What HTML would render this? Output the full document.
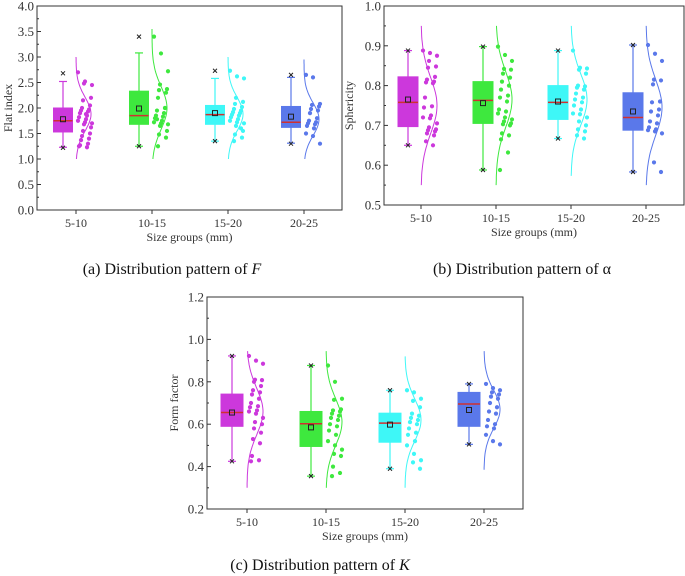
<!DOCTYPE html>
<html><head><meta charset="utf-8">
<style>
html,body{margin:0;padding:0;background:#fff;}
svg{display:block;}
text{font-family:"Liberation Serif","DejaVu Serif",serif;}
</style></head>
<body>
<svg id="fig" width="685" height="576" viewBox="0 0 685 576" font-family="Liberation Serif, serif"></svg>
<script>
const categories = ["5-10","10-15","15-20","20-25"];
const colors = ["#cc38dc","#3ee83e","#3ef7f7","#5a78ea"];

// (a) Flat index F
const aQ1 = [1.53,1.68,1.68,1.62];
const aMed = [1.75,1.85,1.87,1.72];
const aQ3 = [2.0,2.33,2.05,2.03];
const aMean = [1.78,1.99,1.9,1.83];
const aWLo = [1.23,1.25,1.35,1.31];
const aWHi = [2.52,3.08,2.58,2.6];
const aMin = [1.22,1.25,1.35,1.30];
const aMax = [2.68,3.40,2.73,2.65];
const aCurveMean = [1.88,2.0,1.88,1.78];
const aCurveSd = [0.33,0.42,0.33,0.32];
const aCurveLo = [1.0,1.0,1.0,1.0];
const aCurveHi = [3.0,3.55,3.0,2.95];
const aPts0 = [2.7,2.52,2.45,2.48,2.2,2.15,2.05,2.0,1.97,1.95,1.93,1.9,1.85,1.82,1.78,1.75,1.72,1.7,1.68,1.62,1.55,1.5,1.45,1.4,1.37,1.3,1.27,1.23,1.25,1.88];
const aPts1 = [3.4,3.07,2.72,2.46,2.37,2.35,2.3,2.2,2.0,1.95,1.9,1.85,1.83,1.8,1.75,1.72,1.7,1.68,1.65,1.55,1.48,1.42,1.25,2.0,1.78];
const aPts2 = [2.73,2.62,2.58,2.2,2.12,2.08,2.02,1.98,1.95,1.92,1.9,1.87,1.85,1.82,1.78,1.75,1.72,1.7,1.65,1.55,1.48,1.42,1.35,1.6];
const aPts3 = [2.65,2.6,2.08,2.06,2.03,1.98,1.95,1.9,1.8,1.75,1.72,1.7,1.68,1.65,1.6,1.5,1.45,1.3];
const aTicks = ["0.0","0.5","1.0","1.5","2.0","2.5","3.0","3.5","4.0"];

// (b) Sphericity
const bQ1 = [0.697,0.705,0.715,0.688];
const bMed = [0.758,0.763,0.758,0.72];
const bQ3 = [0.822,0.81,0.80,0.782];
const bMean = [0.765,0.756,0.76,0.735];
const bWLo = [0.65,0.588,0.667,0.583];
const bWHi = [0.888,0.898,0.888,0.902];
const bMin = [0.65,0.588,0.667,0.583];
const bMax = [0.888,0.898,0.888,0.902];
const bCurveMean = [0.75,0.765,0.765,0.745];
const bCurveSd = [0.07,0.07,0.065,0.07];
const bCurveLo = [0.55,0.55,0.573,0.55];
const bCurveHi = [0.95,0.95,0.95,0.95];
const bPts0 = [0.888,0.882,0.875,0.862,0.848,0.845,0.822,0.815,0.81,0.808,0.806,0.77,0.748,0.745,0.725,0.72,0.718,0.705,0.695,0.69,0.688,0.685,0.68,0.675,0.66,0.65];
const bPts1 = [0.898,0.877,0.862,0.842,0.84,0.83,0.82,0.81,0.8,0.79,0.775,0.77,0.76,0.74,0.735,0.73,0.72,0.715,0.71,0.705,0.703,0.7,0.68,0.675,0.665,0.632,0.588];
const bPts2 = [0.888,0.845,0.843,0.84,0.83,0.8,0.798,0.795,0.79,0.78,0.77,0.765,0.758,0.75,0.74,0.73,0.728,0.72,0.71,0.7,0.69,0.685,0.675,0.667];
const bPts3 = [0.902,0.88,0.862,0.815,0.813,0.803,0.76,0.758,0.74,0.735,0.725,0.71,0.705,0.695,0.69,0.688,0.685,0.68,0.607,0.583];
const bTicks = ["0.5","0.6","0.7","0.8","0.9","1.0"];

// (c) Form factor K
const cQ1 = [0.59,0.495,0.515,0.59];
const cMed = [0.655,0.602,0.605,0.695];
const cQ3 = [0.742,0.66,0.652,0.75];
const cMean = [0.655,0.585,0.598,0.667];
const cWLo = [0.425,0.355,0.39,0.505];
const cWHi = [0.922,0.877,0.76,0.79];
const cMin = [0.425,0.355,0.39,0.505];
const cMax = [0.922,0.877,0.76,0.79];
const cCurveMean = [0.66,0.61,0.62,0.67];
const cCurveSd = [0.11,0.11,0.1,0.09];
const cCurveLo = [0.3,0.3,0.3,0.385];
const cCurveHi = [0.945,0.945,0.92,0.945];
const cPts0 = [0.922,0.9,0.885,0.81,0.808,0.8,0.78,0.76,0.75,0.74,0.72,0.7,0.685,0.68,0.665,0.66,0.65,0.63,0.61,0.6,0.58,0.56,0.53,0.51,0.45,0.43,0.425];
const cPts1 = [0.877,0.8,0.72,0.715,0.67,0.665,0.66,0.65,0.64,0.63,0.62,0.6,0.59,0.57,0.55,0.52,0.5,0.48,0.46,0.45,0.4,0.37,0.355];
const cPts2 = [0.76,0.75,0.72,0.71,0.68,0.65,0.64,0.63,0.62,0.61,0.6,0.58,0.56,0.55,0.52,0.5,0.46,0.43,0.42,0.39];
const cPts3 = [0.79,0.77,0.76,0.75,0.74,0.73,0.72,0.7,0.68,0.66,0.65,0.62,0.6,0.59,0.58,0.55,0.52,0.505];
const cTicks = ["0.2","0.4","0.6","0.8","1.0","1.2"];

const NS = "http://www.w3.org/2000/svg";
const svg = document.getElementById("fig");
const FONT = "Liberation Serif, DejaVu Serif, serif";
function mk(tag, attrs, parent){
  const e = document.createElementNS(NS, tag);
  for (const k in attrs) e.setAttribute(k, attrs[k]);
  if (tag === "text") e.setAttribute("font-family", FONT);
  (parent||svg).appendChild(e);
  return e;
}

function drawChart(cfg){
  const g = mk("g", {});
  
  
  const yv = v => cfg.bottom - (v - cfg.ymin) / (cfg.ymax - cfg.ymin) * (cfg.bottom - cfg.top);
  const xc = i => cfg.x0 + i * cfg.dx;
  const fr = mk("rect", {x:cfg.left, y:cfg.top, width:cfg.right-cfg.left, height:cfg.bottom-cfg.top, fill:"none", stroke:"#333", "stroke-width":1}, g);
  
  
  const n = cfg.ticks.length;
  for (let k=0;k<n;k++){
    const v = cfg.ymin + k*(cfg.ymax-cfg.ymin)/(n-1);
    const y = yv(v);
    mk("line",{x1:cfg.left,x2:cfg.left+4,y1:y,y2:y,stroke:"#333"},g);
    if (k<n-1){ const ym = yv(v+(cfg.ymax-cfg.ymin)/(n-1)/2); mk("line",{x1:cfg.left,x2:cfg.left+2,y1:ym,y2:ym,stroke:"#333"},g); }
    const t = mk("text",{x:cfg.left-3,y:y+4.5,"text-anchor":"end","font-size":13,fill:"#333"},g);
    t.textContent = cfg.ticks[k];
    
    
  }
  const yl = mk("text",{x:0,y:0,transform:`translate(${cfg.ylabX},${(cfg.top+cfg.bottom)/2}) rotate(-90)`,"text-anchor":"middle","font-size":12,fill:"#333"},g);
  yl.textContent = cfg.ylabel;
  
  
  for (let i=0;i<categories.length;i++){
    const x = xc(i);
    mk("line",{x1:x,x2:x,y1:cfg.bottom,y2:cfg.bottom+4,stroke:"#333"},g);
    const t = mk("text",{x:x,y:cfg.bottom+17,"text-anchor":"middle","font-size":12,fill:"#333"},g);
    t.textContent = categories[i];
    
    
    const col = colors[i];
    const bc = x + cfg.boxOff, bw = cfg.boxW;
    mk("line",{x1:bc,x2:bc,y1:yv(cfg.wLo[i]),y2:yv(cfg.wHi[i]),stroke:col,"stroke-width":1.2},g);
    mk("line",{x1:bc-4,x2:bc+4,y1:yv(cfg.wLo[i]),y2:yv(cfg.wLo[i]),stroke:col,"stroke-width":1.2},g);
    mk("line",{x1:bc-4,x2:bc+4,y1:yv(cfg.wHi[i]),y2:yv(cfg.wHi[i]),stroke:col,"stroke-width":1.2},g);
    const box = mk("rect",{x:bc-bw/2,y:yv(cfg.q3[i]),width:bw,height:yv(cfg.q1[i])-yv(cfg.q3[i]),fill:col,stroke:col},g);
    
    
    mk("line",{x1:bc-bw/2,x2:bc+bw/2,y1:yv(cfg.med[i]),y2:yv(cfg.med[i]),stroke:"#d03030","stroke-width":1.5},g);
    const ym = yv(cfg.mean[i]);
    mk("rect",{x:bc-2.5,y:ym-2.5,width:5,height:5,fill:"none",stroke:"#222","stroke-width":1},g);
    [cfg.mn[i], cfg.mx[i]].forEach(v=>{
      const yy = yv(v);
      mk("path",{d:`M${bc-2} ${yy-2}L${bc+2} ${yy+2}M${bc-2} ${yy+2}L${bc+2} ${yy-2}`,stroke:"#222","stroke-width":1},g);
    });
    let d = "";
    const lo = cfg.cLo[i], hi = cfg.cHi[i];
    for (let s=0;s<=60;s++){
      const v = lo + (hi-lo)*s/60;
      const z = (v-cfg.cMean[i])/cfg.cSd[i];
      const px = x + cfg.curveW*Math.exp(-z*z/2);
      d += (s?"L":"M") + px.toFixed(1) + " " + yv(v).toFixed(1);
    }
    const cv = mk("path",{d:d,fill:"none",stroke:col,"stroke-width":1},g);
    
    
    const pts = cfg.pts[i];
    pts.forEach((v,j)=>{
      const jx = x + 2 + ((j*7)%15);
      const c = mk("circle",{cx:jx,cy:yv(v),r:2.1,fill:col},g);
      
      
    });
  }
  const xl = mk("text",{x:(cfg.left+cfg.right)/2,y:cfg.bottom+31,"text-anchor":"middle","font-size":12,fill:"#333"},g);
  xl.textContent = "Size groups (mm)";
  
  
}

drawChart({name:"chart-flat-index",left:37,right:342,top:6,bottom:210,ymin:0,ymax:4,ticks:aTicks,ylabel:"Flat index",ylabX:12,
  x0:76,dx:76,boxOff:-13,boxW:19,curveW:15,q1:aQ1,med:aMed,q3:aQ3,mean:aMean,wLo:aWLo,wHi:aWHi,mn:aMin,mx:aMax,
  cMean:aCurveMean,cSd:aCurveSd,cLo:aCurveLo,cHi:aCurveHi,pts:[aPts0,aPts1,aPts2,aPts3]});
drawChart({name:"chart-sphericity",left:384,right:684,top:6,bottom:205,ymin:0.5,ymax:1.0,ticks:bTicks,ylabel:"Sphericity",ylabX:353,
  x0:421,dx:75,boxOff:-13,boxW:20,curveW:16,q1:bQ1,med:bMed,q3:bQ3,mean:bMean,wLo:bWLo,wHi:bWHi,mn:bMin,mx:bMax,
  cMean:bCurveMean,cSd:bCurveSd,cLo:bCurveLo,cHi:bCurveHi,pts:[bPts0,bPts1,bPts2,bPts3]});
drawChart({name:"chart-form-factor",left:207,right:523,top:297,bottom:509,ymin:0.2,ymax:1.2,ticks:cTicks,ylabel:"Form factor",ylabX:178,
  x0:247,dx:79,boxOff:-15,boxW:22,curveW:16,q1:cQ1,med:cMed,q3:cQ3,mean:cMean,wLo:cWLo,wHi:cWHi,mn:cMin,mx:cMax,
  cMean:cCurveMean,cSd:cCurveSd,cLo:cCurveLo,cHi:cCurveHi,pts:[cPts0,cPts1,cPts2,cPts3]});

function caption(x,y,pre,it,name){
  const t = mk("text",{x:x,y:y,"text-anchor":"middle","font-size":16,fill:"#111"});
  
  
  const a = mk("tspan",{},t); a.textContent = pre;
  const b = mk("tspan",{"font-style":it?"italic":"normal"},t); b.textContent = it||"";
}
caption(172,274,"(a) Distribution pattern of ","F","caption-a");
caption(522,274,"(b) Distribution pattern of α","","caption-b");
caption(320,570,"(c) Distribution pattern of ","K","caption-c");
</script>
</body></html>
